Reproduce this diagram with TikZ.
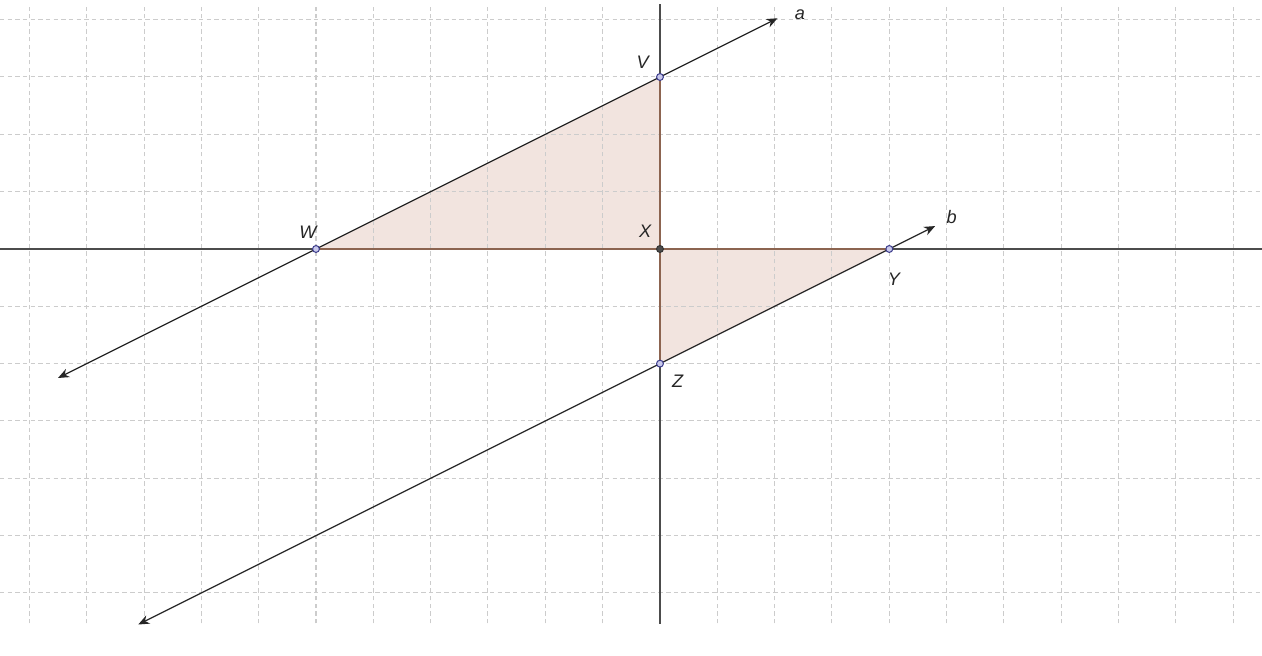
\documentclass[tikz,border=0pt]{standalone}
\usepackage{fontspec}
\setmainfont{Liberation Sans}
\usetikzlibrary{arrows.meta}
\definecolor{trifill}{RGB}{242,228,223}
\definecolor{triedge}{RGB}{140,100,80}
\definecolor{ptfill}{RGB}{200,200,235}
\definecolor{ptedge}{RGB}{60,60,140}
\begin{document}
\begin{tikzpicture}[x=1cm,y=1cm,
  gridline/.style={draw=black!20,line width=0.5pt,dash pattern=on 2.2pt off 1.6pt},
  axisline/.style={draw=black!70,line width=0.7pt},
  geoline/.style={draw=black!85,line width=0.6pt,-{Stealth[length=5.5pt,width=4.5pt]}},
  edgeline/.style={draw=triedge,line width=0.7pt},
  tri/.style={fill=trifill},
  pt/.style={circle,draw=ptedge,fill=ptfill,line width=0.5pt,inner sep=0pt,minimum size=0.12cm},
  ptdark/.style={circle,draw=black!80,fill=black!70,line width=0.5pt,inner sep=0pt,minimum size=0.12cm},
  lbl/.style={font=\fontsize{9}{10}\selectfont\itshape,text=black!85,inner sep=0pt}]
\useasboundingbox (-11.512,-7.099) rectangle (10.501,4.343);
\fill[white] (-11.512,-7.099) rectangle (10.501,4.343);
% coordinates
\coordinate (W) at (-6,0);
\coordinate (V) at (0,3);
\coordinate (X) at (0,0);
\coordinate (Y) at (4,0);
\coordinate (Z) at (0,-2);
\coordinate (aS) at (-10.5,-2.25);
\coordinate (aE) at (2.05,4.025);
\coordinate (bS) at (-9.1,-6.55);
\coordinate (bE) at (4.8,0.4);
\coordinate (hL) at (-11.512,0);
\coordinate (hR) at (10.501,0);
\coordinate (vT) at (0,4.27);
\coordinate (vB) at (0,-6.55);
% triangles
\fill[tri] (W) -- (X) -- (V) -- cycle;
\fill[tri] (X) -- (Y) -- (Z) -- cycle;
% grid
\foreach \x in {-11,...,10} \draw[gridline] (\x,-6.53) -- (\x,4.22);
\foreach \y in {-6,...,4} \draw[gridline] (-11.512,\y) -- (10.501,\y);
% axes
\draw[axisline] (hL) -- (hR);
\draw[axisline] (vT) -- (vB);
% triangle edges
\draw[edgeline] (W) -- (X) -- (V);
\draw[edgeline] (Y) -- (X) -- (Z);
% lines a and b
\draw[geoline] (W) -- (aE);
\draw[geoline] (W) -- (aS);
\draw[geoline] (Z) -- (bE);
\draw[geoline] (Z) -- (bS);
% points
\node[pt] (pW) at (W) {};
\node[pt] (pV) at (V) {};
\node[ptdark] (pX) at (X) {};
\node[pt] (pY) at (Y) {};
\node[pt] (pZ) at (Z) {};
% labels
\node[lbl] (la) at (2.44,4.08) {a};
\node[lbl] (lb) at (5.09,0.56) {b};
\node[lbl] (lV) at (-0.30,3.26) {V};
\node[lbl] (lW) at (-6.14,0.30) {W};
\node[lbl] (lX) at (-0.26,0.31) {X};
\node[lbl] (lY) at (4.08,-0.52) {Y};
\node[lbl] (lZ) at (0.31,-2.30) {Z};
\end{tikzpicture}
\end{document}
